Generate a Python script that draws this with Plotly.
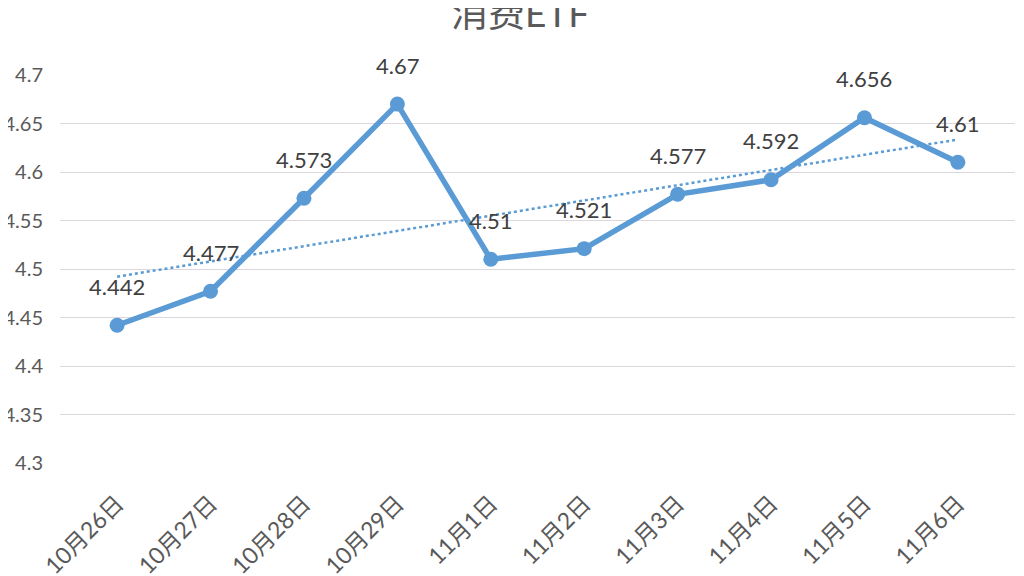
import numpy as np
import plotly.graph_objects as go

categories = ["10月26日", "10月27日", "10月28日", "10月29日", "11月1日",
              "11月2日", "11月3日", "11月4日", "11月5日", "11月6日"]
values = [4.442, 4.477, 4.573, 4.67, 4.51, 4.521, 4.577, 4.592, 4.656, 4.61]
label_text = ["4.442", "4.477", "4.573", "4.67", "4.51", "4.521", "4.577", "4.592", "4.656", "4.61"]
y_tickvals = [4.3, 4.35, 4.4, 4.45, 4.5, 4.55, 4.6, 4.65, 4.7]
y_ticktext = ["4.3", "4.35", "4.4", "4.45", "4.5", "4.55", "4.6", "4.65", "4.7"]
title_text = "消费ETF"

# linear trendline (as Excel's linear trendline)
idx = np.arange(1, len(values) + 1)
slope, intercept = np.polyfit(idx, values, 1)
trend = slope * idx + intercept

FONT = "Lato, 'Noto Sans CJK SC', sans-serif"
BLUE = "#5B9BD5"
TXT = "#595959"

fig = go.Figure()
fig.add_trace(go.Scatter(
    x=categories, y=trend, mode="lines",
    line=dict(color=BLUE, width=2.5, dash="dot"),
    hoverinfo="skip", showlegend=False))
fig.add_trace(go.Scatter(
    x=categories, y=values, mode="lines+markers",
    line=dict(color=BLUE, width=5.5),
    marker=dict(color=BLUE, size=15),
    showlegend=False))

for c, v, t in zip(categories, values, label_text):
    fig.add_annotation(x=c, y=v, text=t, showarrow=False, yshift=39,
                       font=dict(family=FONT, size=22, color="#404040"))

fig.update_layout(
    width=1024, height=576,
    paper_bgcolor="white", plot_bgcolor="white",
    margin=dict(l=52, r=17, t=67, b=121),
    title=dict(text=title_text, x=0.5, xanchor="center", y=0.99, yanchor="middle",
               font=dict(family=FONT, size=37, color=TXT)),
    font=dict(family=FONT, color=TXT),
)
fig.update_xaxes(
    type="category", tickangle=-45, showgrid=False, showline=False, zeroline=False,
    tickfont=dict(family=FONT, size=23, color=TXT), automargin=False,
    ticks="outside", ticklen=17, tickcolor="rgba(0,0,0,0)")
fig.update_yaxes(
    range=[4.3, 4.7], tickvals=y_tickvals, ticktext=y_ticktext,
    showgrid=True, gridcolor="#DCD6DE", gridwidth=1.3, zeroline=False, showline=False,
    tickfont=dict(family=FONT, size=20, color=TXT), automargin=False,
    ticklabelstandoff=16)

fig.write_html("out.html")
